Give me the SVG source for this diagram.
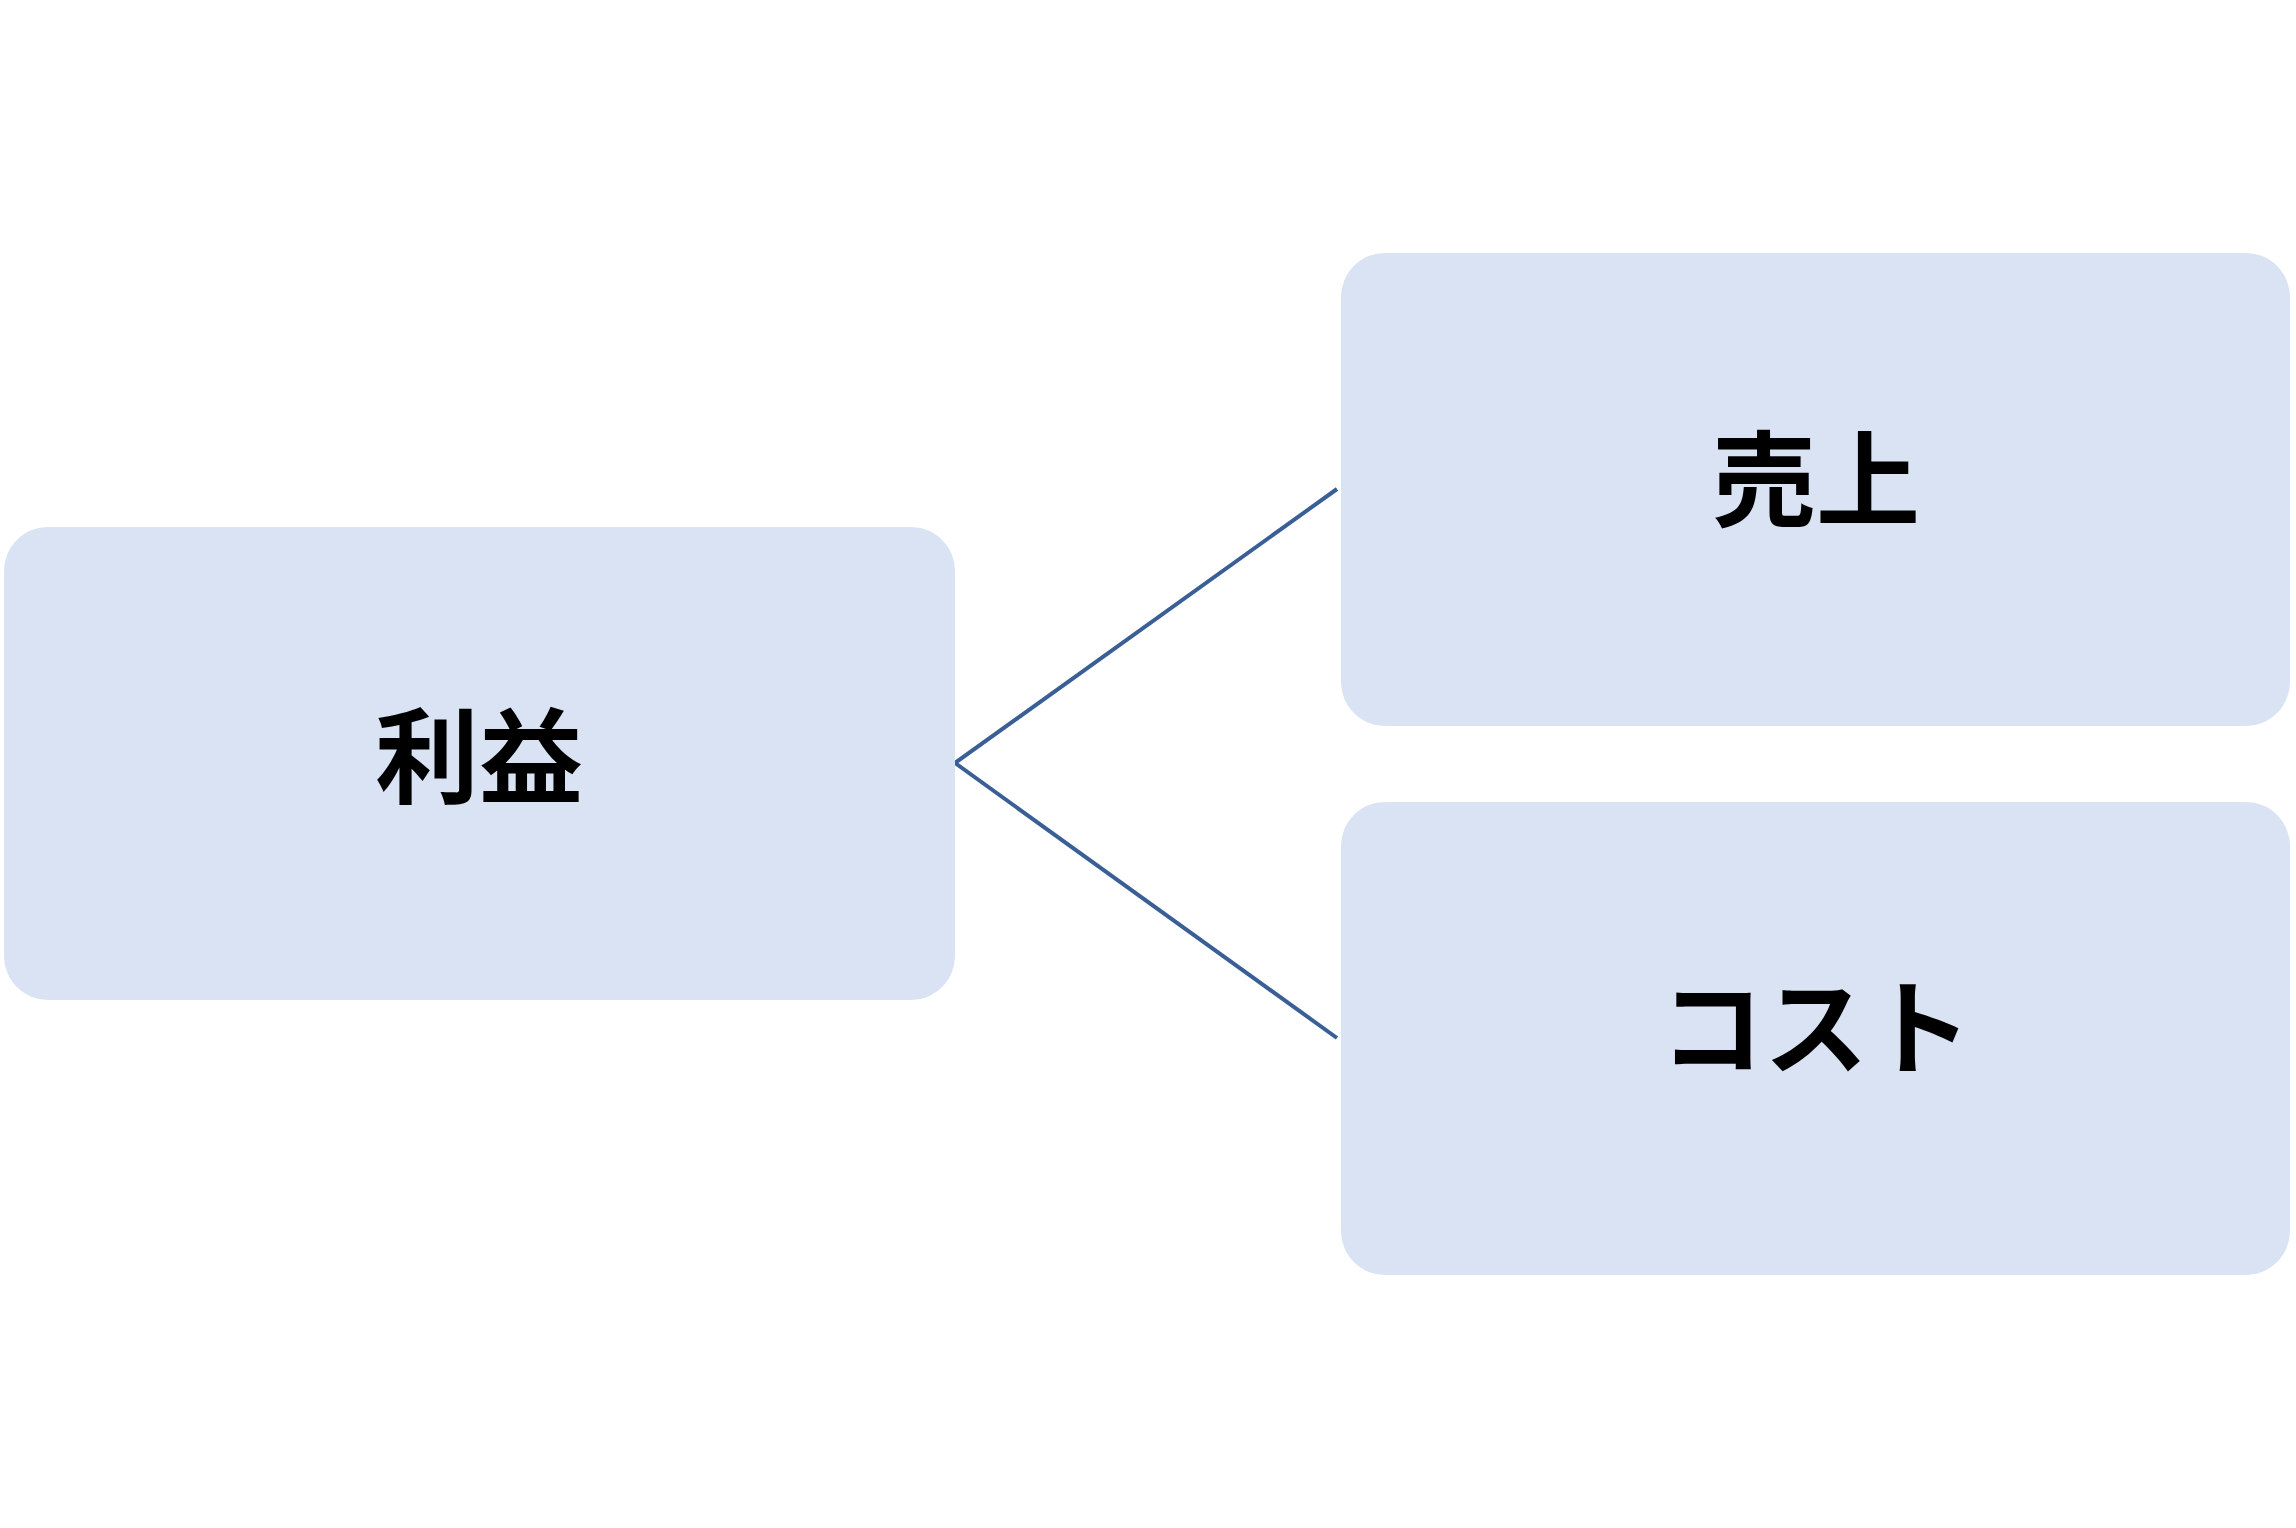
<svg xmlns="http://www.w3.org/2000/svg" width="2296" height="1528" viewBox="0 0 2296 1528">
<style>
.box{fill:#DAE3F3;}
.t{font-family:"Noto Sans CJK JP","Noto Sans CJK SC",sans-serif;font-weight:bold;font-size:104px;fill:#000;text-anchor:middle;dominant-baseline:central;}
.c{stroke:#3A5F96;stroke-width:4;fill:none;}
</style>
<rect width="2296" height="1528" fill="#fff"/>
<g id="connectors">
<line class="c" x1="955" y1="763" x2="1337" y2="489"/>
<line class="c" x1="955" y1="763" x2="1337" y2="1038"/>
</g>
<g id="node-profit">
<rect class="box" x="4" y="527" width="951" height="473" rx="44"/>
<text class="t" x="479" y="750">利益</text>
</g>
<g id="node-sales">
<rect class="box" x="1341" y="253" width="949" height="473" rx="44"/>
<text class="t" x="1816" y="473">売上</text>
</g>
<g id="node-cost">
<rect class="box" x="1341" y="802" width="949" height="473" rx="44"/>
<text class="t" x="1816" y="1021">コスト</text>
</g>
</svg>
